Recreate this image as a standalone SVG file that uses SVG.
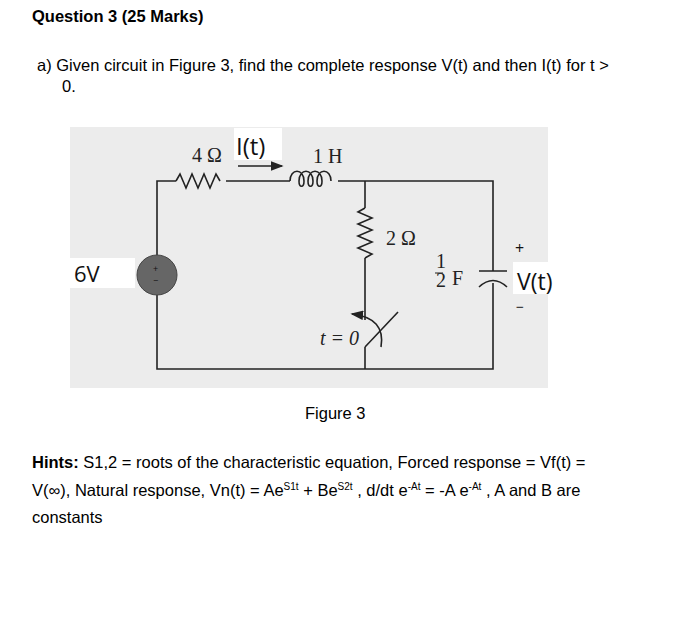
<svg xmlns="http://www.w3.org/2000/svg" width="678" height="630" viewBox="0 0 678 630">
<style>
.t{font-family:"Liberation Sans",Arial,sans-serif;font-size:16.5px;fill:#000}
.s{font-family:"Liberation Serif","Times New Roman",serif;font-size:20px;fill:#222}
.o{font-family:"Open Sans","Noto Sans",sans-serif;fill:#111}
.w{fill:none;stroke:#222;stroke-width:1.6}
</style>
<defs><marker id="ah" markerWidth="8" markerHeight="6" refX="7" refY="3" orient="auto"><path d="M0,0 L8,3 L0,6 z" fill="#222"/></marker></defs>
<rect width="678" height="630" fill="#fff"/>
<text class="t" x="32" y="22" font-weight="bold" font-size="15.5">Question 3 (25 Marks)</text>
<text class="t" x="37" y="71">a)  Given circuit in Figure 3, find the complete response V(t) and then I(t) for t &gt;</text>
<text class="t" x="62" y="92">0.</text>
<rect x="70" y="127" width="478" height="261" fill="#ececec"/>
<g id="wires">
<path class="w" d="M157,255 V181 H176 M226,181 H290 M338,181 H493 V271 M493,283 V369 H157 V295"/>
<path class="w" d="M365,181 V208 M365,258 V320 M365,347 V369"/>
<path class="w" d="M365,347 L398,312"/>
<path class="w" d="M381,347 Q386,318 352,314" marker-end="url(#ah)"/>
<path class="w" d="M238,166 H282" marker-end="url(#ah)"/>
</g>
<g id="R4"><path class="w" d="M176,181 l4,-7 l6,14 l6,-14 l6,14 l6,-14 l6,14 l6,-14 l4,7"/><text class="s" x="192" y="162">4 Ω</text></g>
<g id="L1"><path class="w" d="M290,181 c0,-13 14,-13 14,0 c0,7 -5,7 -5,0 c0,-13 14,-13 14,0 c0,7 -5,7 -5,0 c0,-13 14,-13 14,0 c0,7 -5,7 -5,0 c0,-13 14,-13 14,0"/><text class="s" x="313" y="163">1 H</text></g>
<g id="R2"><path class="w" d="M365,208 l-7,4 l14,6 l-14,6 l14,6 l-14,6 l14,6 l-14,6 l14,6 l-7,4"/><text class="s" x="386" y="245">2 Ω</text></g>
<g id="src"><circle cx="157" cy="275" r="20" fill="#666" stroke="#444"/><text class="o" x="153" y="272" font-size="9" fill="#999">+</text><text class="o" x="153" y="284" font-size="9" fill="#999">−</text>
<rect x="70" y="258" width="65" height="30" fill="#fff"/><text class="o" x="74" y="282" font-size="22">6V</text></g>
<g id="C"><path class="w" d="M479,271 H507 M479,287 Q493,274 507,287"/>
<text class="s" x="436" y="268" font-size="10">1</text><path d="M435,273 H443" stroke="#222"/><text class="s" x="436" y="287" font-size="10">2</text><text class="s" x="452" y="285">F</text>
<text class="o" x="515" y="254" font-size="16">+</text><rect x="513" y="262" width="42" height="32" fill="#fff"/><text class="o" x="517" y="290" font-size="23">V(t)</text><text class="o" x="516" y="312" font-size="14">−</text></g>
<g id="sw"><text class="s" x="320" y="345" font-style="italic">t = 0</text></g>
<rect x="234" y="128" width="48" height="32" fill="#fff"/><text class="o" x="236" y="155" font-size="24">I(t)</text>
<text class="t" x="305" y="419">Figure 3</text>
<text class="t" x="32" y="468"><tspan font-weight="bold">Hints:</tspan> S1,2 = roots of the characteristic equation, Forced response = Vf(t) =</text>
<text class="t" x="32" y="496">V(∞), Natural response, Vn(t) = Ae<tspan font-size="10" dy="-6">S1t</tspan><tspan dy="6"> + Be</tspan><tspan font-size="10" dy="-6">S2t</tspan><tspan dy="6">   , d/dt e</tspan><tspan font-size="10" dy="-6">-At</tspan><tspan dy="6"> = -A e</tspan><tspan font-size="10" dy="-6">-At</tspan><tspan dy="6"> , A and B are</tspan></text>
<text class="t" x="32" y="523">constants</text>
</svg>
